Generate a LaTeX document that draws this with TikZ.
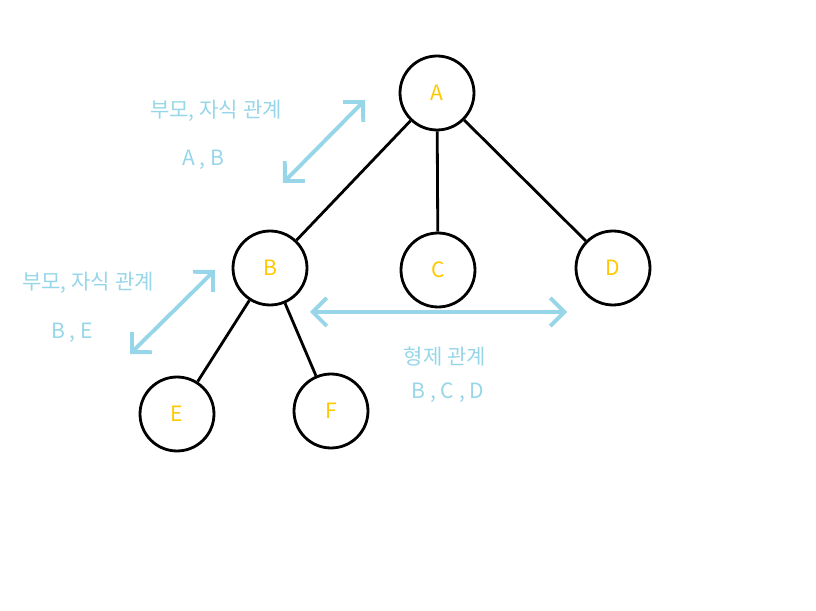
\documentclass[tikz,border=0pt]{standalone}
\usepackage{fontspec}
\setmainfont{Noto Sans CJK KR}
\usetikzlibrary{arrows.meta}
\definecolor{sky}{RGB}{150,214,232}
\definecolor{gold}{RGB}{255,200,0}
\tikzset{
  vertex/.style={draw, circle, line width=1.6pt, minimum size=1.48cm, text=gold, font=\large},
  edge/.style={line width=1.6pt},
  relarrow/.style={sky, line width=2.2pt, {Straight Barb[length=8pt,width=16pt]}-{Straight Barb[length=8pt,width=16pt]}},
  rellabel/.style={text=sky, font=\large}
}
\begin{document}
\begin{tikzpicture}[x=0.02cm, y=-0.02cm]

    \useasboundingbox (0,0) rectangle (816,611);

    % Nodes
    \node [vertex] at (437,93) (A) {A};
    \node [vertex] at (270,268) (B) {B};
    \node [vertex] at (438,270) (C) {C};
    \node [vertex] at (613,268) (D) {D};
    \node [vertex] at (177,414) (E) {E};
    \node [vertex] at (331,411) (F) {F};

    % Labels
    \node [rellabel] at (216,111) (pcAB) {부모, 자식 관계};
    \node [rellabel] at (203,160) (AB) {A , B};
    \node [rellabel] at (88,283) (pcBE) {부모, 자식 관계};
    \node [rellabel] at (72,333) (BE) {B , E};
    \node [rellabel] at (445,357) (sib) {형제 관계};
    \node [rellabel] at (448,393) (BCD) {B , C , D};

    % Edges
    \draw [edge] (A) -- (B);
    \draw [edge] (A) -- (C);
    \draw [edge] (A) -- (D);
    \draw [edge] (B) -- (E);
    \draw [edge] (B) -- (F);

    % Relation arrows
    \coordinate (r1a) at (365,100);
    \coordinate (r1b) at (283,183);
    \coordinate (r2a) at (215,270);
    \coordinate (r2b) at (130,354);
    \coordinate (r3a) at (310,312);
    \coordinate (r3b) at (567,312);
    \draw [relarrow] (r1a) -- (r1b);
    \draw [relarrow] (r2a) -- (r2b);
    \draw [relarrow] (r3a) -- (r3b);

\end{tikzpicture}
\end{document}
